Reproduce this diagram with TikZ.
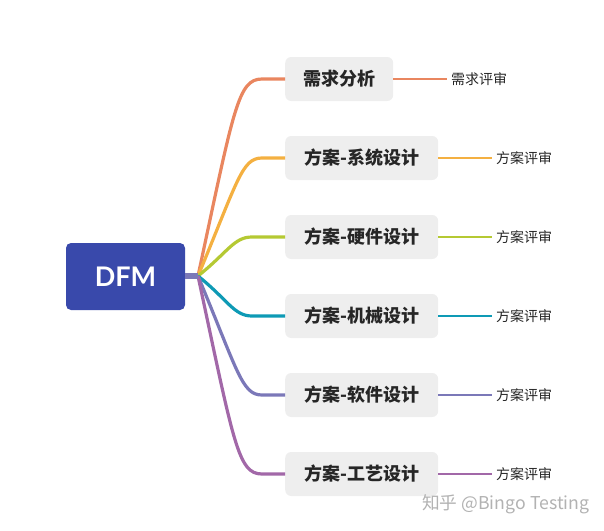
\documentclass[tikz,border=0pt]{standalone}
\usepackage{fontspec}
\usepackage{xcolor}
\setmainfont{Noto Sans CJK SC}
\newfontfamily\rootfont{Lato}
\definecolor{rootblue}{HTML}{3949AB}
\definecolor{boxgrey}{HTML}{EEEEEE}
\definecolor{lineorange}{HTML}{E9865F}
\definecolor{lineyellow}{HTML}{F4B041}
\definecolor{linegreen}{HTML}{B5C933}
\definecolor{lineteal}{HTML}{0E9AB5}
\definecolor{lineblue}{HTML}{7B78B8}
\definecolor{linepurple}{HTML}{A268A8}
\tikzstyle{root box}=[
    fill = rootblue,
    text = white,
    rounded corners = 5pt,
    minimum width = 119pt,
    minimum height = 67pt,
    font = \rootfont\fontsize{27}{29}\selectfont\bfseries
]
\tikzstyle{topic box}=[
    fill = boxgrey,
    text = black!85,
    rounded corners = 6pt,
    anchor = west,
    minimum height = 44pt,
    inner xsep = 18pt,
    font = \fontsize{18}{20}\selectfont\bfseries
]
\tikzstyle{wide topic}=[
    topic box,
    minimum width = 153pt
]
\tikzstyle{leaf text}=[
    anchor = west,
    inner xsep = 4pt,
    text = black!85,
    font = \fontsize{14}{16}\selectfont
]
\begin{document}
\begin{tikzpicture}[x=1pt, y=-1pt, branch/.style = {line width=3.2pt}, twig/.style = {line width=2pt}]
        \useasboundingbox (0,0) rectangle (604,530);

        \node[root box] (root) at (125.5,276.5) {DFM};
        \coordinate (hub) at (198,276);

        \node[topic box] (need) at (285,79) {需求分析};
        \node[wide topic] (sys) at (285,158) {方案-系统设计};
        \node[wide topic] (hw) at (285,237) {方案-硬件设计};
        \node[wide topic] (mech) at (285,316) {方案-机械设计};
        \node[wide topic] (sw) at (285,395) {方案-软件设计};
        \node[wide topic] (proc) at (285,474) {方案-工艺设计};

        \node[leaf text] (needr) at (447,79) {需求评审};
        \node[leaf text] (sysr) at (492,158) {方案评审};
        \node[leaf text] (hwr) at (492,237) {方案评审};
        \node[leaf text] (mechr) at (492,316) {方案评审};
        \node[leaf text] (swr) at (492,395) {方案评审};
        \node[leaf text] (procr) at (492,474) {方案评审};

        \draw[branch, lineorange] (hub) .. controls (234,108) and (238,79) .. (262,79) -- (need.west);
        \draw[branch, lineyellow] (hub) .. controls (238,180) and (242,158) .. (262,158) -- (sys.west);
        \draw[branch, linegreen] (hub) .. controls (228,252) and (234,237) .. (252,237) -- (hw.west);
        \draw[branch, lineteal] (hub) .. controls (228,300) and (234,316) .. (252,316) -- (mech.west);
        \draw[branch, lineblue] (hub) .. controls (238,372) and (242,395) .. (262,395) -- (sw.west);
        \draw[branch, linepurple] (hub) .. controls (234,444) and (238,474) .. (262,474) -- (proc.west);
        \draw[line width=6pt, lineblue] (root.east |- hub) -- (hub);

        \draw[twig, lineorange] (need) -- (needr);
        \draw[twig, lineyellow] (sys) -- (sysr);
        \draw[twig, linegreen] (hw) -- (hwr);
        \draw[twig, lineteal] (mech) -- (mechr);
        \draw[twig, lineblue] (sw) -- (swr);
        \draw[twig, linepurple] (proc) -- (procr);

        \node[text=black!30, anchor=west, inner sep=0pt, font=\fontsize{17.7}{19}\selectfont] (mark) at (422,504) {知乎 @Bingo Testing};
    \end{tikzpicture}
\end{document}
